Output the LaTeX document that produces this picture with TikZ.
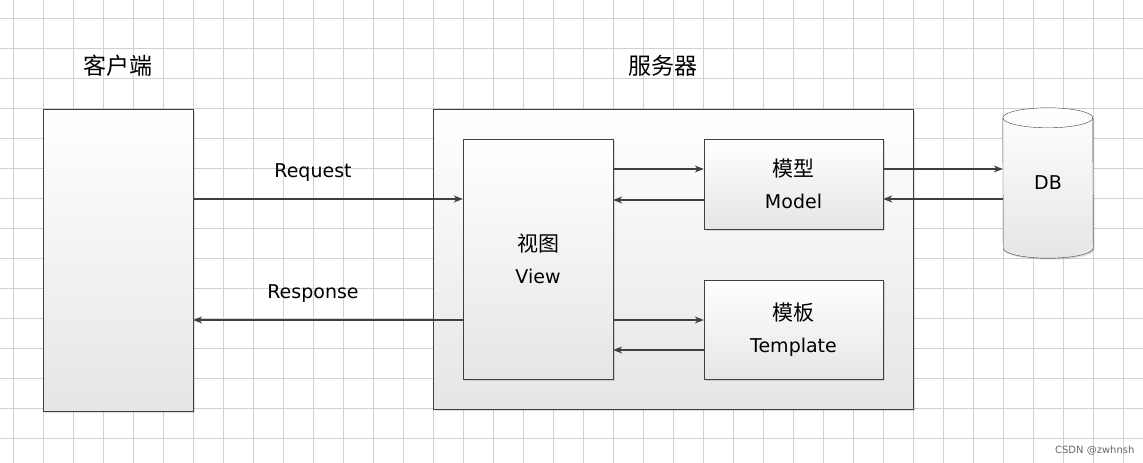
\documentclass[tikz,border=0pt]{standalone}
\usepackage{fontspec}
\setmainfont{DejaVu Sans}
\newfontfamily\cjk{Noto Sans CJK SC}
\usetikzlibrary{shapes.geometric, arrows.meta, positioning, shadows, calc}

\tikzset{
  box/.style={draw=black!75, top color=white, bottom color=black!10, drop shadow={opacity=0.25, shadow xshift=1.5pt, shadow yshift=-1.5pt}, inner sep=0pt, align=center, font=\fontsize{19}{32}\selectfont},
  flow/.style={draw=black!75, line width=1.2pt, -{Stealth[length=9pt,width=7pt]}},
  title/.style={font=\cjk\fontsize{23}{26}\selectfont},
  lbl/.style={font=\fontsize{19}{22}\selectfont}
}

\begin{document}
\begin{tikzpicture}[x=1pt, y=-1pt]
\useasboundingbox (0,0) rectangle (1143,463);
% grid
\foreach \x in {13,43,...,1143} \draw[black!18, line width=0.6pt] (\x,0) -- (\x,463);
\foreach \y in {18,48,...,463} \draw[black!18, line width=0.6pt] (0,\y) -- (1143,\y);

\node [box, minimum width=150pt, minimum height=302pt] (client) at (118,260) {};
\node [box, minimum width=480pt, minimum height=300pt] (server) at (673,259) {};
\node [box, minimum width=150pt, minimum height=240pt] (view) at (538,259) {{\cjk\fontsize{21}{32}\selectfont 视图}\\View};
\node [box, minimum width=179pt, minimum height=90pt] (model) at (793.5,184) {{\cjk\fontsize{21}{32}\selectfont 模型}\\Model};
\node [box, minimum width=179pt, minimum height=99pt] (tmpl) at (793.5,329.5) {{\cjk\fontsize{21}{32}\selectfont 模板}\\Template};

% database
\node [minimum width=90pt, minimum height=150pt, inner sep=0pt] (db) at (1048,183) {};
\draw [draw=black!75, top color=white, bottom color=black!10, drop shadow={opacity=0.25, shadow xshift=1.5pt, shadow yshift=-1.5pt}]
  ($(db.north west)+(0,10)$) arc[start angle=180, end angle=0, x radius=45pt, y radius=10pt]
  -- ($(db.south east)+(0,-10)$) arc[start angle=0, end angle=-180, x radius=45pt, y radius=10pt] -- cycle;
\draw [black!75] ($(db.north west)+(0,10)$) arc[start angle=180, end angle=360, x radius=45pt, y radius=10pt];
\node [font=\fontsize{19}{22}\selectfont] (dblbl) at (db) {DB};

\node [title] (ctitle) at (118,66) {客户端};
\node [title] (stitle) at (663,66) {服务器};

% connectors
\coordinate (req) at ($(client.east)+(0,-61)$);
\coordinate (res) at ($(client.east)+(0,60)$);
\draw [flow] (req) -- (req -| view.west) node [lbl, midway, above=14pt, xshift=-15pt] (reqlbl) {Request};
\draw [flow] (res -| view.west) -- (res) node [lbl, midway, above=14pt, xshift=-15pt] (reslbl) {Response};

\coordinate (m1) at ($(model.west)+(0,-15)$);
\coordinate (m2) at ($(model.west)+(0,16)$);
\draw [flow] (m1 -| view.east) -- (m1);
\draw [flow] (m2) -- (m2 -| view.east);

\coordinate (t1) at ($(tmpl.west)+(0,-9.5)$);
\coordinate (t2) at ($(tmpl.west)+(0,20.5)$);
\draw [flow] (t1 -| view.east) -- (t1);
\draw [flow] (t2) -- (t2 -| view.east);

\coordinate (d1) at ($(model.east)+(0,-15)$);
\coordinate (d2) at ($(model.east)+(0,15)$);
\draw [flow] (d1) -- (d1 -| db.west);
\draw [flow] (d2 -| db.west) -- (d2);

\node [font=\fontsize{10}{12}\selectfont, text=black!60, anchor=south east] (mark) at (1138,459) {CSDN @zwhnsh};
\end{tikzpicture}
\end{document}
